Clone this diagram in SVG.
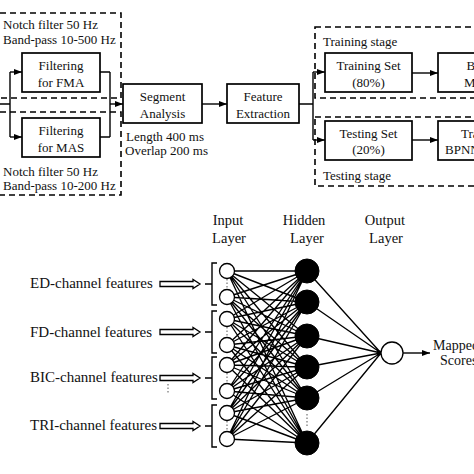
<svg xmlns="http://www.w3.org/2000/svg" width="474" height="474" viewBox="0 0 474 474">
<defs>
<marker id="ah" markerUnits="userSpaceOnUse" markerWidth="8" markerHeight="6" refX="8" refY="3" orient="auto"><path d="M0,0 L8,3 L0,6 z" fill="#000"/></marker>
<style>
text{font-family:"Liberation Serif","Times New Roman",serif;font-size:13px;fill:#111}
.c{text-anchor:middle}
.box{fill:#fff;stroke:#000;stroke-width:1.7}
.dash{fill:none;stroke:#000;stroke-width:1.6;stroke-dasharray:6 4}
.ln{fill:none;stroke:#000;stroke-width:1.4}
.arr{fill:none;stroke:#000;stroke-width:1.4;marker-end:url(#ah)}
.net{fill:none;stroke:#000;stroke-width:1.35}
.in{fill:#fff;stroke:#000;stroke-width:1.3}
.hid{fill:#000;stroke:#000;stroke-width:1}
.dot{fill:none;stroke:#555;stroke-width:1;stroke-dasharray:1.5 2}
.big{font-size:15px}
.lay{font-size:14.5px}
.map{font-size:14px}
.hol{fill:#fff;stroke:#000;stroke-width:1.3}
.brk{fill:none;stroke:#000;stroke-width:1.4}
</style>
</defs>
<g id="stage-boxes">
<rect class="dash" x="-10" y="13" width="131" height="85"/>
<rect class="dash" x="-10" y="112" width="131" height="83"/>
<rect class="dash" x="315" y="27" width="170" height="71"/>
<rect class="dash" x="315" y="117" width="170" height="69"/>
<text x="3" y="29">Notch filter 50 Hz</text>
<text x="3" y="43.5">Band-pass 10-500 Hz</text>
<text x="3" y="176">Notch filter 50 Hz</text>
<text x="3" y="190">Band-pass 10-200 Hz</text>
<text x="323" y="45.5">Training stage</text>
<text x="323" y="179.5">Testing stage</text>
</g>
<g id="connectors">
<path class="ln" d="M0 104H10M10 72V137"/>
<path class="arr" d="M10 72H22"/>
<path class="arr" d="M10 137H22"/>
<path class="ln" d="M100 72H110M100 137H110M110 72V137"/>
<path class="arr" d="M110 104H123"/>
<path class="arr" d="M202 104H227"/>
<path class="ln" d="M299 104H313M313 72V140"/>
<path class="arr" d="M313 72H325"/>
<path class="arr" d="M313 140H325"/>
<path class="arr" d="M412 73H438"/>
<path class="arr" d="M412 140H438"/>
<path class="net" d="M227 271L307 271M227 271L307 302M227 271L307 336M227 271L307 367M227 271L307 398M227 271L307 443M227 297L307 271M227 297L307 302M227 297L307 336M227 297L307 367M227 297L307 398M227 297L307 443M227 319L307 271M227 319L307 302M227 319L307 336M227 319L307 367M227 319L307 398M227 319L307 443M227 345L307 271M227 345L307 302M227 345L307 336M227 345L307 367M227 345L307 398M227 345L307 443M227 365L307 271M227 365L307 302M227 365L307 336M227 365L307 367M227 365L307 398M227 365L307 443M227 391L307 271M227 391L307 302M227 391L307 336M227 391L307 367M227 391L307 398M227 391L307 443M227 413L307 271M227 413L307 302M227 413L307 336M227 413L307 367M227 413L307 398M227 413L307 443M227 439L307 271M227 439L307 302M227 439L307 336M227 439L307 367M227 439L307 398M227 439L307 443"/>
<path class="net" d="M307 271L381 353M307 302L381 353M307 336L381 353M307 367L381 353M307 398L381 353M307 443L381 353"/>
<circle cx="379" cy="353" r="2.4" fill="#000"/>
<path class="arr" d="M403 353H430"/>
<path class="hol" d="M160 281.5H193V279.5L200 284L193 288.5V286.5H160Z"/>
<path class="hol" d="M160 329.5H193V327.5L200 332L193 336.5V334.5H160Z"/>
<path class="hol" d="M160 375.5H193V373.5L200 378L193 382.5V380.5H160Z"/>
<path class="hol" d="M160 423.5H193V421.5L200 426L193 430.5V428.5H160Z"/>
<path class="dot" d="M168 384V394"/>
<path class="brk" d="M217 263H212V305H217M212 284H205"/>
<path class="brk" d="M217 311H212V353H217M212 332H205"/>
<path class="brk" d="M217 357H212V399H217M212 378H205"/>
<path class="brk" d="M217 405H212V447H217M212 426H205"/>
</g>
<g id="filter-fma"><rect class="box" x="22" y="53" width="78" height="39"/><text class="c" x="61" y="70">Filtering</text><text class="c" x="61" y="86.5">for FMA</text></g>
<g id="filter-mas"><rect class="box" x="22" y="118" width="78" height="39"/><text class="c" x="61" y="135">Filtering</text><text class="c" x="61" y="151.5">for MAS</text></g>
<g id="segment"><rect class="box" x="123" y="84" width="79" height="39"/><text class="c" x="162.5" y="101">Segment</text><text class="c" x="162.5" y="117.5">Analysis</text>
<text x="126" y="140.5">Length 400 ms</text><text x="125" y="154.5">Overlap 200 ms</text></g>
<g id="feature"><rect class="box" x="227" y="84" width="72" height="39"/><text class="c" x="263" y="101">Feature</text><text class="c" x="263" y="117.5">Extraction</text></g>
<g id="training-set"><rect class="box" x="325" y="53" width="87" height="39"/><text class="c" x="368.5" y="70">Training Set</text><text class="c" x="368.5" y="86.5">(80%)</text></g>
<g id="build-model"><rect class="box" x="438" y="53" width="87" height="39"/><text class="c" x="481" y="70">Build</text><text class="c" x="481" y="86.5">Model</text></g>
<g id="testing-set"><rect class="box" x="325" y="121" width="87" height="39"/><text class="c" x="368.5" y="137.5">Testing Set</text><text class="c" x="368.5" y="153.5">(20%)</text></g>
<g id="trained-model"><rect class="box" x="438" y="121" width="87" height="39"/><text class="c" x="481" y="137.5">Trained</text><text class="c" x="481" y="153.5">BPNN Model</text></g>
<g id="labels">
<text class="lay c" x="228" y="225">Input</text><text class="lay c" x="229" y="243">Layer</text>
<text class="lay c" x="304" y="225">Hidden</text><text class="lay c" x="307" y="243">Layer</text>
<text class="lay c" x="385" y="225">Output</text><text class="lay c" x="386" y="243">Layer</text>
<text class="big" x="30" y="288">ED-channel features</text>
<text class="big" x="30" y="336.5">FD-channel features</text>
<text class="big" x="30" y="382">BIC-channel features</text>
<text class="big" x="30" y="430">TRI-channel features</text>
<text class="map" x="433" y="349.5">Mapped</text>
<text class="map" x="440" y="364.5">Scores</text>
</g>
<g id="input-layer">
<circle class="in" cx="227" cy="271" r="7.5"/><circle class="in" cx="227" cy="297" r="7.5"/>
<circle class="in" cx="227" cy="319" r="7.5"/><circle class="in" cx="227" cy="345" r="7.5"/>
<circle class="in" cx="227" cy="365" r="7.5"/><circle class="in" cx="227" cy="391" r="7.5"/>
<circle class="in" cx="227" cy="413" r="7.5"/><circle class="in" cx="227" cy="439" r="7.5"/>
<path class="dot" d="M227 279V289M227 327V337M227 373V383M227 421V431"/>
</g>
<g id="hidden-layer">
<circle class="hid" cx="307" cy="271" r="12"/><circle class="hid" cx="307" cy="302" r="12"/>
<circle class="hid" cx="307" cy="336" r="12"/><circle class="hid" cx="307" cy="367" r="12"/>
<circle class="hid" cx="307" cy="398" r="12"/><circle class="hid" cx="307" cy="443" r="12"/>
<path class="dot" d="M307 414V428"/>
</g>
<g id="output-node"><circle class="in" cx="392" cy="353" r="11"/></g>
</svg>
